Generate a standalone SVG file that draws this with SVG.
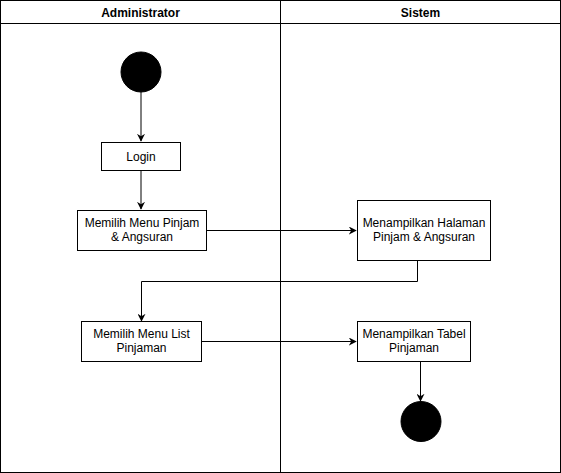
<svg xmlns="http://www.w3.org/2000/svg" width="561" height="473" viewBox="0 0 561 473">
<defs>
<style>
.lane{fill:#fff;stroke:#000;stroke-width:1}
.hdr{font-family:"Liberation Sans",Arial,sans-serif;font-size:12px;font-weight:bold;fill:#000;text-anchor:middle}
.box{fill:#fff;stroke:#000;stroke-width:1}
.t{font-family:"Liberation Sans",Arial,sans-serif;font-size:12px;fill:#000;text-anchor:middle}
.c{fill:none;stroke:#000;stroke-width:1}
.dot{fill:#000;stroke:#000}
</style>
<marker id="arr" viewBox="0 0 10 10" refX="9" refY="5" markerWidth="8" markerHeight="8" markerUnits="userSpaceOnUse" orient="auto">
<path d="M0,0 L10,5 L0,10 L3,5 Z" fill="#000"/>
</marker>
</defs>
<g id="pool">
<rect class="lane" x="0.5" y="0.5" width="280" height="472"/>
<rect class="lane" x="280.5" y="0.5" width="280" height="472"/>
<line class="c" x1="0.5" y1="23.5" x2="560.5" y2="23.5"/>
<text class="hdr" x="140.5" y="17">Administrator</text>
<text class="hdr" x="420.5" y="17">Sistem</text>
</g>
<g id="connectors">
<path class="c" d="M141,92 L141,141" marker-end="url(#arr)"/>
<path class="c" d="M141,170 L141,209" marker-end="url(#arr)"/>
<path class="c" d="M206,230.5 L356,230.5" marker-end="url(#arr)"/>
<path class="c" d="M417.5,260 L417.5,281.5 L141.5,281.5 L141.5,321" marker-end="url(#arr)"/>
<path class="c" d="M201,341.5 L356,341.5" marker-end="url(#arr)"/>
<path class="c" d="M420.5,362 L420.5,401" marker-end="url(#arr)"/>
</g>
<g id="start"><circle class="dot" cx="141" cy="72" r="20"/></g>
<g id="login">
<rect class="box" x="101.5" y="142.5" width="79" height="28"/>
<text class="t" x="141" y="161">Login</text>
</g>
<g id="pilihPinjam">
<rect class="box" x="77.5" y="210.5" width="129" height="40"/>
<text class="t" x="142" y="227">Memilih Menu Pinjam</text>
<text class="t" x="142" y="241">&amp; Angsuran</text>
</g>
<g id="halaman">
<rect class="box" x="357.5" y="200.5" width="133" height="60"/>
<text class="t" x="424" y="227">Menampilkan Halaman</text>
<text class="t" x="424" y="241">Pinjam &amp; Angsuran</text>
</g>
<g id="pilihList">
<rect class="box" x="81.5" y="321.5" width="120" height="40"/>
<text class="t" x="141.5" y="338">Memilih Menu List</text>
<text class="t" x="141.5" y="352">Pinjaman</text>
</g>
<g id="tabel">
<rect class="box" x="357.5" y="321.5" width="113" height="40"/>
<text class="t" x="414" y="338">Menampilkan Tabel</text>
<text class="t" x="414" y="352">Pinjaman</text>
</g>
<g id="end"><circle class="dot" cx="421" cy="421.5" r="20"/></g>
</svg>
